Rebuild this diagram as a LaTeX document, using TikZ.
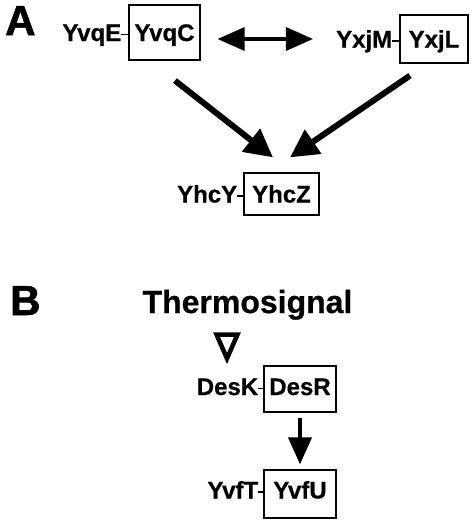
\documentclass[tikz,border=0pt]{standalone}
\usepackage{fontspec}
\setmainfont{Liberation Sans}[BoldFeatures={FakeBold=0.6}]
\newfontfamily\heavyfont{Liberation Sans}[BoldFeatures={FakeBold=1.5}]
\usetikzlibrary{positioning,arrows.meta}

\begin{document}
\begin{tikzpicture}
  [x=1pt,y=-1pt,
   every node/.style={inner sep=0pt,font=\fontsize{24}{25}\selectfont\bfseries,
     text height=17pt,text depth=0pt},
   gene/.style={draw,line width=1.2pt},
   panel/.style={font=\fontsize{42}{42}\selectfont\heavyfont\bfseries,anchor=base west},
   link/.style={line width=1.8pt},
   bigarrow/.style={line width=6pt,-{Triangle[length=28pt,width=28pt]}},
   thinarrow/.style={line width=4pt,-{Triangle[length=27pt,width=23pt]}},
   dblarrow/.style={line width=3.5pt,{Triangle[length=27pt,width=23pt]}-{Triangle[length=27pt,width=23pt]}},
   sigtri/.style={line width=4.5pt}]
  \useasboundingbox (0,0) rectangle (474,523);

  % panel A
  \node[panel] (pa) at (5,35) {A};
  \node[gene,minimum width=71pt,minimum height=55pt] (yvqc) at (164.5,32.5) {YvqC};
  \node[left=7pt of yvqc] (yvqe) {YvqE};
  \node[gene,minimum width=68pt,minimum height=48pt] (yxjl) at (434,39) {YxjL};
  \node[left=7pt of yxjl] (yxjm) {YxjM};
  \node[gene,minimum width=75pt,minimum height=42pt] (yhcz) at (281.5,194) {YhcZ};
  \node[left=6pt of yhcz] (yhcy) {YhcY};

  \draw[dblarrow,shorten <=17pt,shorten >=23pt] (yvqc.east |- yxjm) -- (yxjm.west);
  \draw[bigarrow] ([xshift=10.5pt,yshift=-20pt]yvqc.south) -- ([xshift=-8.5pt,yshift=15pt]yhcz.north);
  \draw[bigarrow] ([xshift=-24pt,yshift=-12pt]yxjl.south) -- ([xshift=8.5pt,yshift=15pt]yhcz.north);

  % panel B
  \node[panel] (pb) at (10,315) {B};
  \node[font=\fontsize{32}{32}\selectfont\bfseries,anchor=base] (therm) at (247.5,313) {Thermosignal};
  \coordinate (sig) at (227,334.5);
  \draw[sigtri] ([xshift=-10.5pt]sig) -- ([xshift=10.5pt]sig) -- ([yshift=-24pt]sig) -- cycle;
  \node[gene,minimum width=72pt,minimum height=46pt,text depth=5pt] (desr) at (300,389) {DesR};
  \node[left=5pt of desr,yshift=2.5pt] (desk) {DesK};
  \node[gene,minimum width=72pt,minimum height=48pt,text depth=8pt] (yvfu) at (300,494) {YvfU};
  \node[left=5pt of yvfu,yshift=4pt] (yvft) {YvfT};

  \draw[thinarrow,shorten <=5pt,shorten >=5pt] (desr) -- (yvfu);

  \foreach \from/\to in {yvqe/yvqc,yxjm/yxjl,yhcy/yhcz,desk/desr,yvft/yvfu}
    \draw[link] ([yshift=-2pt]\from.east) -- ([yshift=-2pt]\from.east -| \to.west);
\end{tikzpicture}
\end{document}
